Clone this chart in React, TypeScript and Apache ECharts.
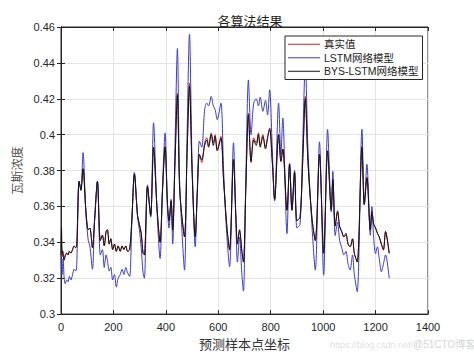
import React, { useEffect, useRef } from "react";
import * as echarts from "echarts";

const titleText = "各算法结果";
const xName = "预测样本点坐标";
const yName = "瓦斯浓度";
const seriesNames = ["真实值", "LSTM网络模型", "BYS-LSTM网络模型"];

const sampleIdx = [
  0, 2, 4, 8, 12, 16, 22, 27, 32, 38, 44, 50, 56, 60, 69, 76, 84, 95, 104, 110,
  120, 128, 139, 150, 158, 165, 172, 177, 184, 190, 197, 204, 211, 218, 226, 233, 240, 247, 254, 262,
  270, 280, 292, 299, 306, 313, 318, 330, 342, 353, 366, 378, 387, 397, 406, 412, 420, 426, 435, 444,
  452, 460, 471, 481, 490, 500, 512, 520, 528, 537, 548, 556, 563, 573, 581, 588, 596, 610, 620, 632,
  643, 658, 667, 673, 681, 690, 696, 705, 715, 725, 735, 745, 753, 760, 770, 780, 788, 796, 806, 815,
  830, 839, 846, 862, 872, 881, 891, 900, 912, 922, 932, 942, 957, 970, 986, 1002, 1017, 1031, 1037, 1046,
  1055, 1063, 1071, 1079, 1087, 1095, 1103, 1112, 1119, 1130, 1148, 1157, 1167, 1180, 1186, 1193, 1200, 1207, 1214, 1222,
  1230, 1238, 1252,
];

const trueVals = [
  0.333, 0.334, 0.332, 0.335, 0.331, 0.333, 0.334, 0.333, 0.335, 0.334, 0.336, 0.338, 0.337, 0.338, 0.374, 0.3697, 0.381, 0.358, 0.347, 0.348,
  0.337, 0.352, 0.374, 0.341, 0.344, 0.338, 0.346, 0.347, 0.339, 0.342, 0.336, 0.339, 0.335, 0.338, 0.335, 0.338, 0.336, 0.338, 0.335, 0.336,
  0.352, 0.378, 0.355, 0.35, 0.345, 0.334, 0.333, 0.371, 0.355, 0.3927, 0.36, 0.34, 0.368, 0.3936, 0.362, 0.352, 0.3632, 0.3466, 0.385, 0.4232,
  0.372, 0.356, 0.343, 0.39, 0.4287, 0.38, 0.343, 0.368, 0.389, 0.3845, 0.3955, 0.3983, 0.394, 0.401, 0.3955, 0.4, 0.3918, 0.399, 0.375, 0.35,
  0.3356, 0.3863, 0.355, 0.3392, 0.3466, 0.335, 0.329, 0.37, 0.412, 0.3845, 0.3983, 0.3955, 0.401, 0.394, 0.4, 0.393, 0.399, 0.4038, 0.385, 0.3641,
  0.4, 0.3853, 0.392, 0.3577, 0.3835, 0.3577, 0.379, 0.352, 0.354, 0.385, 0.4213, 0.385, 0.354, 0.341, 0.389, 0.3337, 0.3908, 0.3577, 0.3752, 0.3494,
  0.3577, 0.3485, 0.346, 0.343, 0.344, 0.3392, 0.3375, 0.3419, 0.3337, 0.329, 0.3935, 0.3614, 0.3761, 0.3466, 0.3577, 0.35, 0.348, 0.345, 0.343, 0.3392,
  0.3356, 0.346, 0.3337,
];

const lstmVals = [
  0.333, 0.326, 0.322, 0.331, 0.32, 0.317, 0.319, 0.318, 0.321, 0.319, 0.322, 0.325, 0.324, 0.327, 0.374, 0.369, 0.39, 0.356, 0.341, 0.338,
  0.325, 0.352, 0.374, 0.333, 0.336, 0.326, 0.333, 0.33, 0.324, 0.326, 0.319, 0.322, 0.315, 0.32, 0.322, 0.325, 0.322, 0.326, 0.323, 0.321,
  0.35, 0.379, 0.354, 0.347, 0.337, 0.323, 0.32, 0.372, 0.354, 0.4066, 0.358, 0.331, 0.37, 0.401, 0.36, 0.348, 0.364, 0.339, 0.395, 0.448,
  0.376, 0.35, 0.3245, 0.4, 0.456, 0.385, 0.3375, 0.37, 0.3964, 0.393, 0.414, 0.4176, 0.416, 0.4213, 0.416, 0.414, 0.4084, 0.4176, 0.381, 0.345,
  0.3264, 0.3955, 0.352, 0.329, 0.343, 0.322, 0.3128, 0.375, 0.4305, 0.4, 0.4176, 0.42, 0.416, 0.421, 0.413, 0.419, 0.411, 0.425, 0.392, 0.363,
  0.4176, 0.389, 0.4093, 0.3448, 0.384, 0.358, 0.38, 0.348, 0.35, 0.395, 0.44, 0.392, 0.35, 0.3245, 0.396, 0.3217, 0.4029, 0.357, 0.3796, 0.3438,
  0.3513, 0.341, 0.337, 0.333, 0.335, 0.328, 0.3245, 0.333, 0.322, 0.3125, 0.403, 0.361, 0.3835, 0.3439, 0.36, 0.342, 0.3337, 0.3375, 0.331, 0.3236,
  0.328, 0.333, 0.32,
];

const bysVals = [
  0.333, 0.348, 0.336, 0.333, 0.33, 0.332, 0.334, 0.333, 0.335, 0.334, 0.336, 0.338, 0.337, 0.338, 0.374, 0.369, 0.381, 0.357, 0.347, 0.348,
  0.337, 0.352, 0.374, 0.341, 0.344, 0.338, 0.346, 0.347, 0.339, 0.342, 0.336, 0.339, 0.335, 0.338, 0.335, 0.338, 0.336, 0.338, 0.335, 0.336,
  0.352, 0.378, 0.355, 0.35, 0.345, 0.334, 0.333, 0.371, 0.355, 0.393, 0.36, 0.34, 0.368, 0.393, 0.362, 0.352, 0.363, 0.347, 0.385, 0.422,
  0.372, 0.356, 0.343, 0.39, 0.427, 0.38, 0.343, 0.368, 0.389, 0.386, 0.394, 0.397, 0.393, 0.4, 0.394, 0.399, 0.391, 0.398, 0.375, 0.35,
  0.336, 0.386, 0.355, 0.339, 0.347, 0.335, 0.329, 0.37, 0.411, 0.385, 0.397, 0.394, 0.4, 0.393, 0.399, 0.392, 0.398, 0.403, 0.385, 0.364,
  0.4, 0.385, 0.392, 0.358, 0.3835, 0.358, 0.379, 0.352, 0.354, 0.385, 0.42, 0.385, 0.354, 0.341, 0.389, 0.334, 0.391, 0.358, 0.375, 0.349,
  0.357, 0.349, 0.346, 0.343, 0.345, 0.339, 0.3375, 0.342, 0.334, 0.329, 0.393, 0.361, 0.376, 0.347, 0.357, 0.35, 0.348, 0.345, 0.343, 0.339,
  0.336, 0.346, 0.334,
];

const xTicks = { min: 0, max: 1400, interval: 200 };
const yTicks = { min: 0.3, max: 0.46, interval: 0.02 };

const FONT = "'Liberation Sans', Arial, 'Noto Sans CJK SC', sans-serif";
const AX = "#262626";

export default function App() {
  const ref = useRef<HTMLDivElement>(null);
  useEffect(() => {
    if (!ref.current) return;
    const chart = echarts.init(ref.current, undefined, { renderer: "svg" });
    const pairs = (vals: number[]) => sampleIdx.map((x, i) => [x, vals[i]]);
    const colors = ["#c0282d", "#3b3bd0", "#111111"];
    const valsList = [trueVals, lstmVals, bysVals];
    const yFmt = (v: number) => String(+v.toFixed(2));
    const xFmt = (v: number) => String(Math.round(v));
    const axisCommon = {
      axisLine: { show: true, lineStyle: { color: AX, width: 1 } },
      axisTick: { show: true, inside: true, length: 4, lineStyle: { color: AX } },
    };
    chart.setOption({
      animation: false,
      backgroundColor: "#ffffff",
      title: {
        text: titleText,
        left: 245,
        textAlign: "center",
        top: 9,
        textStyle: { fontSize: 13, fontWeight: "normal", color: "#222", fontFamily: "'Noto Sans CJK SC', serif" },
      },
      legend: {
        data: seriesNames,
        orient: "vertical",
        left: 285,
        top: 36,
        itemWidth: 32,
        itemHeight: 10,
        itemGap: 3,
        padding: [3, 4, 3, 3],
        backgroundColor: "#ffffff",
        borderColor: AX,
        borderWidth: 1,
        borderRadius: 0,
        icon: "path://M0,5 L32,5 L32,6 L0,6 Z",
        textStyle: { fontSize: 10.5, color: "#222", fontFamily: FONT, padding: [0, 0, 0, -1] },
        z: 10,
      },
      grid: { left: 61, right: 46, top: 27, bottom: 39, show: true, borderColor: AX, borderWidth: 1, backgroundColor: "#fff" },
      xAxis: [
        {
          type: "value",
          ...xTicks,
          name: xName,
          nameLocation: "middle",
          nameGap: 22,
          nameTextStyle: { fontSize: 13, color: "#333", fontFamily: "'Noto Sans CJK SC', serif" },
          axisLabel: { fontSize: 11, color: AX, fontFamily: FONT, margin: 7, formatter: xFmt },
          splitLine: { show: true, lineStyle: { color: "#e4e4e4", width: 1 } },
          ...axisCommon,
        },
        {
          type: "value",
          position: "top",
          ...xTicks,
          axisLabel: { show: false },
          splitLine: { show: false },
          ...axisCommon,
        },
      ],
      yAxis: [
        {
          type: "value",
          ...yTicks,
          name: yName,
          nameLocation: "middle",
          nameGap: 24,
          nameTextStyle: { fontSize: 12, color: "#555", fontFamily: "'Noto Sans CJK SC', serif" },
          axisLabel: { fontSize: 11, color: AX, fontFamily: FONT, margin: 6, formatter: yFmt },
          splitLine: { show: true, lineStyle: { color: "#e4e4e4", width: 1 } },
          ...axisCommon,
        },
        {
          type: "value",
          position: "right",
          ...yTicks,
          axisLabel: { show: false },
          splitLine: { show: false },
          ...axisCommon,
        },
      ],
      series: seriesNames.map((name, i) => ({
        name,
        type: "line",
        data: pairs(valsList[i]),
        showSymbol: false,
        symbol: "none",
        smooth: 0.3,
        lineStyle: { color: colors[i], width: 1 },
        itemStyle: { color: colors[i] },
        z: 2 + i,
      })),
      graphic: [
        {
          type: "text",
          left: 330,
          top: 340,
          style: { text: "https://blog.csdn.net/", fontSize: 9, fill: "#e2e2e2", fontFamily: FONT },
          silent: true,
        },
        {
          type: "text",
          left: 413,
          top: 339,
          style: { text: "@51CTO博客", fontSize: 10, fill: "#d6d6d6", fontFamily: FONT },
          silent: true,
        },
      ],
    });
    return () => chart.dispose();
  }, []);
  return <div ref={ref} style={{ position: "absolute", left: 0, top: 0, width: 474, height: 355 }} />;
}
